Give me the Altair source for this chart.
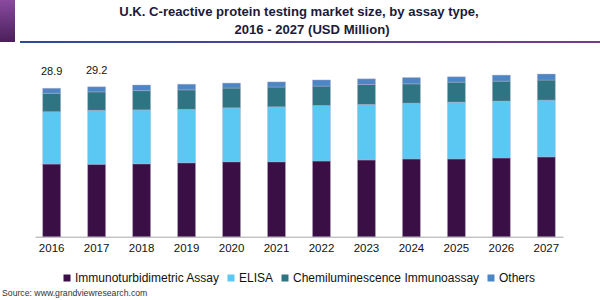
import altair as alt
import pandas as pd

years = [str(y) for y in range(2016, 2028)]
segments = ["Immunoturbidimetric Assay", "ELISA", "Chemiluminescence Immunoassay", "Others"]
immuno = [14.15, 14.1, 14.2, 14.4, 14.6, 14.6, 14.75, 14.95, 15.15, 15.15, 15.35, 15.55]
elisa = [10.2, 10.5, 10.5, 10.4, 10.5, 10.7, 10.8, 10.8, 10.85, 11.05, 11.05, 11.05]
chemi = [3.58, 3.6, 3.75, 3.8, 3.85, 3.85, 3.78, 3.9, 3.77, 3.9, 3.9, 3.9]
others = [0.97, 1.0, 1.1, 1.1, 0.97, 1.0, 1.2, 1.1, 1.23, 1.05, 1.17, 1.17]
colors = ["#3a0f45", "#5bc8f4", "#2e7483", "#4c86c4"]
label_years = ["2016", "2017"]
label_values = [28.9, 29.2]

title_line1 = "U.K. C-reactive protein testing market size, by assay type,"
title_line2 = "2016 - 2027 (USD Million)"
source_text = "Source: www.grandviewresearch.com"

FONT = "Liberation Sans, Arial, sans-serif"

rows = []
for k, (seg, vals) in enumerate(zip(segments, [immuno, elisa, chemi, others])):
    for y, v in zip(years, vals):
        rows.append({"year": y, "segment": seg, "value": v, "k": k})
df = pd.DataFrame(rows)
labels_df = pd.DataFrame({"year": label_years, "total": label_values,
                          "label": [f"{v:.1f}" for v in label_values]})

bars = alt.Chart(df).mark_bar(stroke="#b8b0c8", strokeWidth=0.4).encode(
    x=alt.X("year:N", sort=years,
            scale=alt.Scale(domain=years, paddingInner=0.6, paddingOuter=0.17),
            axis=alt.Axis(title=None, labelAngle=0, ticks=False, tickSize=0,
                          domainColor="#a8a8a8", domainWidth=1,
                          labelFontSize=11.5, labelColor="#111111",
                          labelPadding=6, labelFont=FONT, grid=False)),
    y=alt.Y("value:Q", stack="zero", scale=alt.Scale(domain=[0, 35], nice=False),
            axis=None),
    color=alt.Color("segment:N", scale=alt.Scale(domain=segments, range=colors),
                    legend=alt.Legend(orient="none", legendX=26, legendY=215,
                                      direction="horizontal", title=None,
                                      symbolType="square", symbolSize=49,
                                      symbolStrokeWidth=0, symbolOpacity=1,
                                      labelFontSize=12, labelOffset=2,
                                      columnPadding=5, labelColor="#111111",
                                      labelFont=FONT, padding=0, labelLimit=400)),
    order=alt.Order("k:Q", sort="ascending"),
)

value_labels = alt.Chart(labels_df).mark_text(
    dy=-16, fontSize=11, color="#111111", font=FONT, baseline="middle"
).encode(
    x=alt.X("year:N", sort=years),
    y=alt.Y("total:Q"),
    text="label:N",
)

one = alt.Data(values=[{}])

t1 = alt.Chart(one).mark_text(
    text=title_line1, fontSize=13.1, fontWeight="bold", color="#1c1a3a",
    font=FONT, align="center", baseline="middle"
).encode(x=alt.value(264), y=alt.value(-45.5))

t2 = alt.Chart(one).mark_text(
    text=title_line2, fontSize=13.1, fontWeight="bold", color="#1c1a3a",
    font=FONT, align="center", baseline="middle"
).encode(x=alt.value(277), y=alt.value(-27.5))

underline = alt.Chart(one).mark_rect(
    fill=alt.Gradient(gradient="linear",
                      stops=[alt.GradientStop(color="#2a4aa0", offset=0),
                             alt.GradientStop(color="#7a3a8c", offset=1)],
                      x1=0, x2=1, y1=0, y2=0)
).encode(x=alt.value(-15), x2=alt.value(565), y=alt.value(-16), y2=alt.value(-14))

block = alt.Chart(one).mark_rect(
    fill=alt.Gradient(gradient="linear",
                      stops=[alt.GradientStop(color="#8a4a9e", offset=0),
                             alt.GradientStop(color="#4a1f5a", offset=1)],
                      x1=0, x2=0, y1=0, y2=1)
).encode(x=alt.value(-35), x2=alt.value(-20), y=alt.value(-57), y2=alt.value(-15))

source = alt.Chart(one).mark_text(
    text=source_text, fontSize=8.7, color="#333333", font=FONT,
    align="left", baseline="middle"
).encode(x=alt.value(-33), y=alt.value(236.3))

chart = alt.layer(bars, value_labels, t1, t2, block, underline, source).properties(
    width=528, height=179.7,
    autosize=alt.AutoSizeParams(type="none"),
    padding={"left": 35, "top": 57, "right": 37, "bottom": 63.3},
    background="white",
).configure_view(stroke=None)

chart.save("out.html", embed_options={"renderer": "svg", "actions": False})
